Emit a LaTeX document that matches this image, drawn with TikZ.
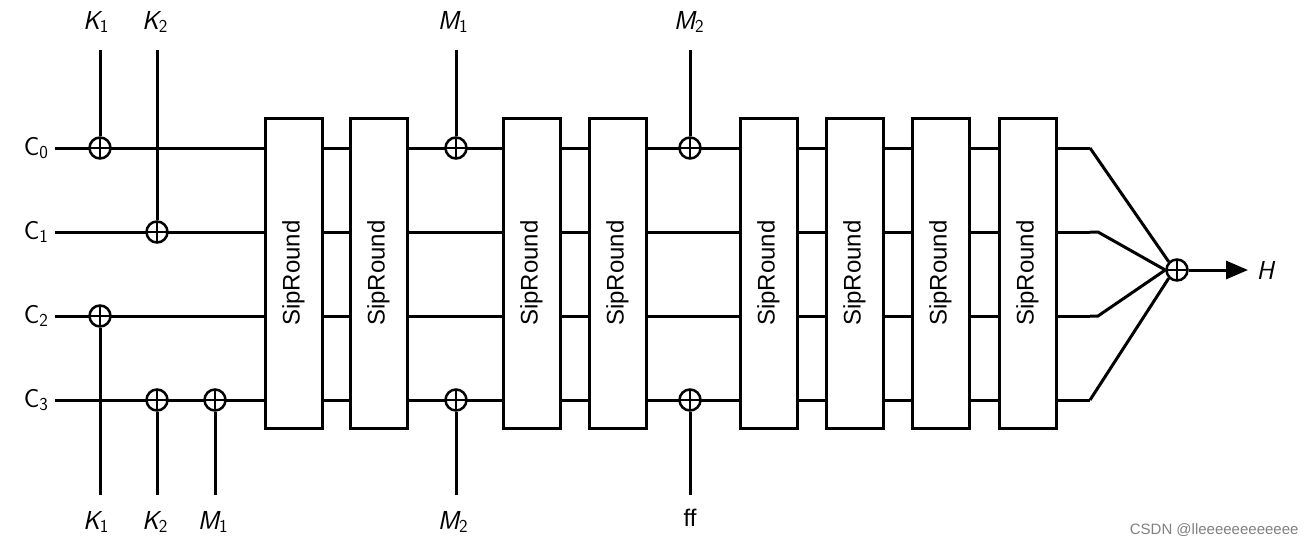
\documentclass[tikz,border=0pt]{standalone}
\usepackage{fontspec}
\setmainfont{Liberation Sans}
\usetikzlibrary{arrows.meta}
\begin{document}
\begin{tikzpicture}[x=1pt,y=-1pt,line width=3pt,
  xr/.style={circle,draw,line width=2.5pt,minimum size=21pt,inner sep=0pt,fill=white,
    path picture={\draw[line width=2.5pt] (path picture bounding box.north)--(path picture bounding box.south)
      (path picture bounding box.west)--(path picture bounding box.east);}},
  sr/.style={draw,line width=3pt,minimum width=57pt,minimum height=310pt,inner sep=0pt,fill=white},
  lab/.style={font=\fontsize{26}{26}\selectfont\itshape,inner sep=0pt},
  srt/.style={font=\fontsize{24}{24}\selectfont,rotate=90}]
\useasboundingbox (0,0) rectangle (1314,552);
% lines
\foreach \i/\y in {0/148,1/232,2/316,3/400}{
  \coordinate (s\i) at (55,\y);
  \coordinate (e\i) at (1090,\y);
  \draw (s\i)--(e\i);
  \node[lab,anchor=east] at (50,\y) {$\mathsf{C}_{\mathsf{\i}}$};
}
\node[xr] (f) at (1177,270) {};
\draw (e0)--(f.north west);
\draw (e1)--(1098,232)--(f.west);
\draw (e2)--(1098,316)--(f.west);
\draw (e3)--(f.south west);
\coordinate (hend) at (1248,270);
\draw[-{Triangle[length=22pt,width=18pt]}] (f.east)--(hend);
\node[lab,anchor=west] at (1255,270) {\textsf{H}};
% rounds
\foreach \x [count=\n] in {293.5,378.5,531.5,617.5,768.5,854.5,940.5,1027.5}
  \node[sr] (r\n) at (\x,273) {\raisebox{0pt}{}};
\foreach \n in {1,...,8}
  \node[srt] at (r\n) {SipRound};
% top inputs
\coordinate (tK1) at (100,50); \coordinate (tK2) at (157,50);
\coordinate (tM1) at (456,50); \coordinate (tM2) at (690,50);
\node[xr] (x1) at (100,148) {}; \node[xr] (x2) at (157,232) {};
\node[xr] (x3) at (456,148) {}; \node[xr] (x4) at (690,148) {};
\draw (tK1)--(x1.north); \draw (tK2)--(x2.north);
\draw (tM1)--(x3.north); \draw (tM2)--(x4.north);
\node[lab] at (96,22) {\textsf{K}$_{\mathsf{1}}$};
\node[lab] at (155,22) {\textsf{K}$_{\mathsf{2}}$};
\node[lab] at (453,22) {\textsf{M}$_{\mathsf{1}}$};
\node[lab] at (689,22) {\textsf{M}$_{\mathsf{2}}$};
% bottom inputs
\coordinate (bK1) at (100,495); \coordinate (bK2) at (157,495);
\coordinate (bM1) at (215,495); \coordinate (bM2) at (456,495);
\coordinate (bff) at (690,495);
\node[xr] (y1) at (100,316) {}; \node[xr] (y2) at (157,400) {};
\node[xr] (y3) at (215,400) {}; \node[xr] (y4) at (456,400) {};
\node[xr] (y5) at (690,400) {};
\draw (bK1)--(y1.south); \draw (bK2)--(y2.south); \draw (bM1)--(y3.south);
\draw (bM2)--(y4.south); \draw (bff)--(y5.south);
\node[lab] at (96,522) {\textsf{K}$_{\mathsf{1}}$};
\node[lab] at (155,522) {\textsf{K}$_{\mathsf{2}}$};
\node[lab] at (213,522) {\textsf{M}$_{\mathsf{1}}$};
\node[lab] at (453,522) {\textsf{M}$_{\mathsf{2}}$};
\node[font=\fontsize{24}{24}\selectfont,inner sep=0pt] at (690,518) {f{}f};
\node[font=\fontsize{15}{15}\selectfont,text=gray,anchor=east,inner sep=0pt] at (1300,530) {CSDN @lleeeeeeeeeeee};
\end{tikzpicture}
\end{document}
